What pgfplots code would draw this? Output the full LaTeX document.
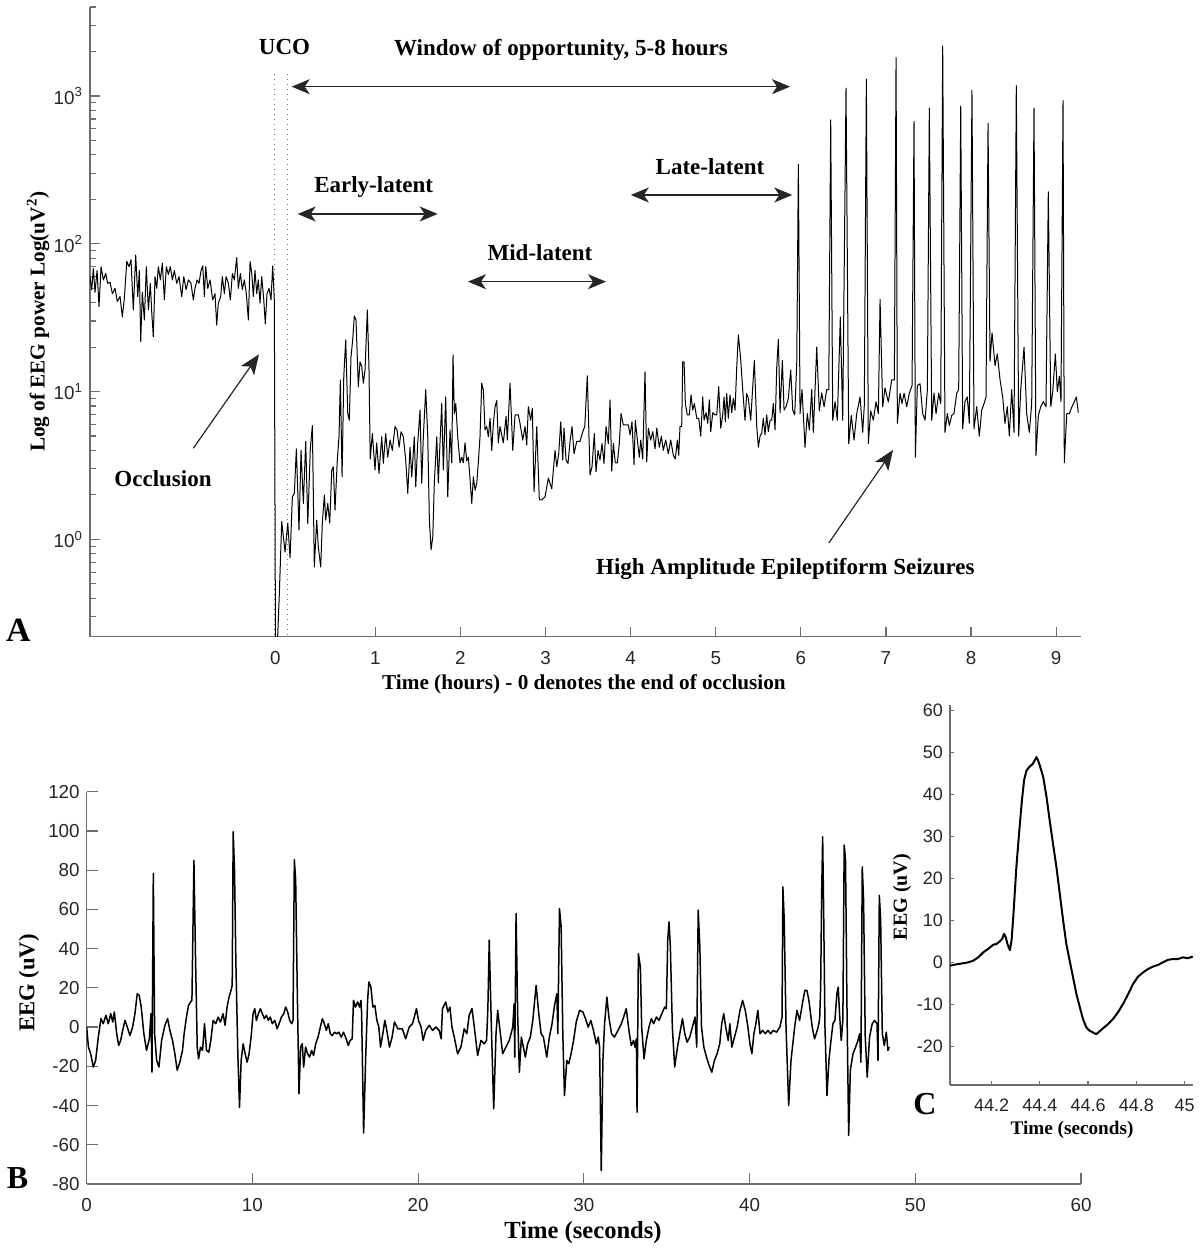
\documentclass[border=0pt]{standalone}
\usepackage{fontspec}
\setmainfont{Liberation Serif}
\newfontfamily\sans{Liberation Sans}
\usepackage{pgfplots}
\pgfplotsset{compat=1.18}
\usetikzlibrary{arrows.meta}
\definecolor{axgray}{RGB}{110,110,110}
\definecolor{tickcol}{RGB}{38,38,38}
\pgfplotsset{
  myaxis/.style={
    scale only axis, axis lines=left,
    axis line style={-,draw=axgray,line width=0.6pt},
    every tick/.style={draw=axgray,line width=0.6pt},
    tick align=inside,
    tick label style={font=\fontsize{8.7}{10}\selectfont\sans,text=tickcol},
  }
}
\tikzset{
  dar/.style={{Stealth[length=9pt,width=7.5pt,inset=2.5pt]}-{Stealth[length=9pt,width=7.5pt,inset=2.5pt]}, line width=0.65pt, draw=black!85},
  sar/.style={-{Stealth[length=10pt,width=8pt,inset=2.5pt]}, line width=0.6pt, draw=black!85},
  ann/.style={font=\fontsize{11.5}{13}\selectfont\bfseries, inner sep=0pt}
}
\begin{document}
\begin{tikzpicture}
\path[use as bounding box] (0,0) rectangle (600pt,626pt);
% ---------------- Panel A ----------------
\begin{axis}[myaxis, at={(45pt,307.65pt)}, anchor=south west,
  width=495.4pt, height=315pt, ymode=log,
  xmin=-2.353, xmax=9.29, ymin=0.2195, ymax=4025,
  xtick={-0.175,1,2,3,4,5,6,7,8,9}, xticklabels={0,1,2,3,4,5,6,7,8,9},
  ytick={1,10,100,1000},
  yticklabels={10\textsuperscript{0},10\textsuperscript{1},10\textsuperscript{2},10\textsuperscript{3}},
  minor ytick={0.3,0.4,0.5,0.6,0.7,0.8,0.9,2,3,4,5,6,7,8,9,20,30,40,50,60,70,80,90,200,300,400,500,600,700,800,900,2000,3000,4000},
  major tick length=5pt, minor tick length=3pt,
  tick label style={font=\fontsize{9.4}{11}\selectfont\sans,text=tickcol},
  xticklabel style={yshift=-4pt},
]
\draw[axgray, dotted, line width=0.5pt] (axis cs:-0.187,1409) -- (axis cs:-0.187,0.2195);
\draw[axgray, dotted, line width=0.5pt] (axis cs:-0.034,1409) -- (axis cs:-0.034,0.2195);
\addplot[black, line width=0.5pt, line join=round] coordinates {
(-2.353,60) (-2.333,48.8) (-2.314,68) (-2.294,47) (-2.270,66) (-2.247,37.6) (-2.223,70) (-2.196,57) (-2.168,63) (-2.145,54) (-2.118,55) (-2.090,46) (-2.059,50) (-2.032,40.7) (-2.000,44) (-1.973,32) (-1.949,43) (-1.921,76) (-1.894,70) (-1.871,78) (-1.844,35.7) (-1.816,84) (-1.792,44) (-1.773,66) (-1.757,21.8) (-1.738,47) (-1.714,30.5) (-1.691,70) (-1.667,35.7) (-1.644,54) (-1.628,34.8) (-1.609,23.5) (-1.589,60) (-1.569,50) (-1.550,70) (-1.526,57) (-1.503,74) (-1.479,41.7) (-1.456,70) (-1.432,62) (-1.409,70) (-1.385,57) (-1.362,66) (-1.334,54) (-1.307,60) (-1.275,44) (-1.251,60) (-1.224,49) (-1.197,57) (-1.166,54) (-1.139,41.7) (-1.119,50) (-1.095,57) (-1.072,54) (-1.048,66) (-1.028,71) (-1.009,44) (-0.993,70) (-0.969,50) (-0.942,57) (-0.911,41.7) (-0.884,46) (-0.864,28.2) (-0.845,39.7) (-0.817,44) (-0.798,60) (-0.774,46) (-0.754,60) (-0.727,54) (-0.704,41.7) (-0.680,63) (-0.657,57) (-0.629,80.7) (-0.610,50) (-0.586,63) (-0.563,49) (-0.539,57) (-0.516,46) (-0.492,30.5) (-0.472,76) (-0.452,63) (-0.434,44) (-0.414,66) (-0.394,46) (-0.375,57) (-0.355,39.7) (-0.335,60) (-0.311,41.7) (-0.293,28.7) (-0.273,46) (-0.249,50) (-0.226,41.7) (-0.206,71) (-0.187,41.7) (-0.173,0.15) (-0.159,0.15) (-0.128,0.43)
(-0.100,1.32) (-0.061,0.82) (-0.029,1.29) (-0.002,0.75) (0.025,1.94) (0.048,2.05) (0.072,4.1) (0.103,1.16) (0.127,4.0) (0.154,1.75) (0.182,4.6) (0.206,1.28) (0.236,4.1) (0.260,5.9) (0.283,0.65) (0.311,1.35) (0.330,0.89) (0.358,0.65) (0.377,1.29) (0.401,2.0) (0.417,1.35) (0.441,1.75) (0.464,1.29) (0.488,2.95) (0.506,3.1) (0.526,1.58) (0.553,3.44) (0.573,4.95) (0.589,12) (0.609,2.65) (0.629,12.6) (0.652,22.4) (0.676,7.1) (0.694,6.4) (0.714,17.2) (0.734,22.4) (0.753,32.5) (0.773,30.5) (0.800,10.8) (0.820,15.9) (0.840,14.8) (0.859,11.4) (0.879,14) (0.906,35.7) (0.925,14.8) (0.940,3.5) (0.965,5.2) (0.996,2.95) (1.016,4.5) (1.043,2.8) (1.075,4.95) (1.094,3.27) (1.122,5.2) (1.146,3.6) (1.173,4.7) (1.200,4.0) (1.231,5.8) (1.255,5.5) (1.279,4.2) (1.302,5.35) (1.329,4.95) (1.357,3.44) (1.381,2.05) (1.408,4.2) (1.428,2.65) (1.458,4.95) (1.475,2.27) (1.498,4.5) (1.525,7.5) (1.545,2.4) (1.564,4.95) (1.592,10.3) (1.616,4.95) (1.635,1.35) (1.655,0.85) (1.675,1.04) (1.693,2.4) (1.722,4.95) (1.740,2.4) (1.760,4.5) (1.780,8.3) (1.799,2.95) (1.827,9.2) (1.851,1.94) (1.878,5.5) (1.898,3.3) (1.913,17.7) (1.928,7.1) (1.945,8.3) (1.968,4.95) (1.995,3.3) (2.015,3.6) (2.034,3.3) (2.054,4.5) (2.074,3.4) (2.093,3.6) (2.113,2.55) (2.133,1.75) (2.152,2.65) (2.172,2.15) (2.192,2.4) (2.210,3.3) (2.230,4.95) (2.250,11.4) (2.269,10.3) (2.289,5.5) (2.309,5.8) (2.328,4.95) (2.348,6.6) (2.368,4.0) (2.387,6.1) (2.407,7.9) (2.427,8.7) (2.445,4.5)
(2.465,5.8) (2.504,4.5) (2.536,6.8) (2.551,4.7) (2.583,11.4) (2.615,4.0) (2.642,6.95) (2.680,6.95) (2.700,6.1) (2.732,4.7) (2.759,5.8) (2.779,4.35) (2.798,7.9) (2.826,6.4) (2.845,7.7) (2.865,2.1) (2.897,5.8) (2.927,1.85) (2.955,1.85) (2.994,1.94) (3.033,2.6) (3.073,2.2) (3.112,4.0) (3.132,3.1) (3.155,3.8) (3.179,6.25) (3.202,3.44) (3.217,5.65) (3.241,3.44) (3.264,3.27) (3.288,4.6) (3.311,5.8) (3.335,3.8) (3.367,4.6) (3.405,4.6) (3.437,5.35) (3.461,5.8) (3.491,12.8) (3.523,2.72) (3.546,3.1) (3.573,5.2) (3.593,2.87) (3.617,4.0) (3.640,3.44) (3.664,4.45) (3.687,3.27) (3.711,5.8) (3.738,4.45) (3.758,8.8) (3.778,2.9) (3.797,4.45) (3.820,3.3) (3.844,3.3) (3.867,4.45) (3.887,7.1) (3.914,5.95) (3.946,5.95) (3.973,5.95) (3.993,5.1) (4.016,6.25) (4.040,3.2) (4.055,6.4) (4.079,4.7) (4.102,3.6) (4.119,4.7) (4.142,3.5) (4.169,13.6) (4.189,3.35) (4.208,5.65) (4.236,4.7) (4.260,5.35) (4.287,4.1) (4.307,5.65) (4.337,4.2) (4.361,5.0) (4.384,4.0) (4.412,4.7) (4.443,3.8) (4.471,4.7) (4.502,3.7) (4.525,3.5) (4.549,4.7) (4.565,3.7) (4.580,5.8) (4.600,5.8) (4.612,15.9) (4.628,15.9) (4.643,8.3) (4.666,6.95) (4.690,6.95) (4.710,9.5) (4.730,7.5) (4.749,8.3) (4.777,6.6) (4.800,6.6) (4.824,5.0) (4.847,9.2) (4.863,6.4) (4.886,7.2) (4.906,6.1) (4.925,8.8) (4.941,5.35) (4.965,7.2) (4.992,6.95) (5.012,6.95) (5.035,10.8) (5.059,5.65) (5.082,6.95) (5.098,9.2) (5.113,6.25) (5.129,9.7) (5.148,6.6) (5.168,9.5) (5.188,7.2) (5.207,9.0) (5.227,7.5) (5.247,14.7) (5.266,24.2) (5.294,16.3) (5.318,10.1) (5.344,6.4) (5.364,9.7) (5.383,9.0) (5.411,6.4) (5.435,10.8) (5.454,16.3) (5.482,5.8) (5.501,4.2) (5.521,5.0) (5.541,5.25) (5.559,6.6) (5.579,5.1) (5.599,6.95) (5.618,5.35) (5.638,6.4) (5.658,6.4) (5.677,8.3) (5.697,5.5) (5.717,14.7) (5.736,22.6) (5.756,7.2) (5.783,16.3) (5.803,7.5) (5.826,7.9) (5.853,9.0) (5.881,14) (5.905,7.5) (5.928,6.95) (5.952,15.6) (5.971,345) (5.991,7.1)
(6.014,10.3) (6.049,4.2) (6.076,7.1) (6.100,5.5) (6.128,10.3) (6.147,5.3) (6.187,20) (6.217,7.4) (6.245,9.8) (6.273,7.9) (6.304,10.3) (6.328,10.3) (6.351,690) (6.375,6.4) (6.402,8.55) (6.429,6.4) (6.464,32) (6.492,6.4) (6.531,1130) (6.563,4.45) (6.593,6.9) (6.625,4.7) (6.657,7.1) (6.696,9.2) (6.727,5.3) (6.746,8.1) (6.770,1300) (6.793,4.45) (6.821,7.4) (6.852,6.4) (6.884,8.55) (6.911,7.1) (6.931,42) (6.962,7.9) (6.989,10.6) (7.028,8.5) (7.068,12) (7.099,12) (7.119,1820) (7.134,6.1) (7.166,9.75) (7.189,8.3) (7.213,9.75) (7.244,7.9) (7.275,9.75) (7.307,11) (7.330,675) (7.346,3.6) (7.369,11) (7.401,11.3) (7.432,7.1) (7.460,6.4) (7.487,10.3) (7.510,830) (7.538,6.4) (7.565,9.75) (7.589,7.1) (7.620,9.75) (7.644,8.3) (7.667,2180) (7.694,5.3) (7.721,7.1) (7.745,5.9) (7.773,6.9) (7.800,7.1) (7.832,9.75) (7.855,10.3) (7.879,855) (7.902,5.6) (7.929,8.55) (7.956,9.2) (7.980,6.1) (8.011,1090) (8.035,5.6) (8.067,7.9) (8.097,5.0) (8.126,7.5) (8.153,8.3) (8.176,9.2) (8.200,655) (8.223,16) (8.247,25) (8.282,15) (8.309,18) (8.341,12) (8.372,9.2) (8.399,6.1) (8.426,7.9) (8.450,5.0) (8.478,10.3) (8.505,5.3) (8.532,1175) (8.560,5.0) (8.584,10.3) (8.623,20) (8.654,7.1) (8.685,5.3) (8.713,8.3) (8.740,830) (8.763,3.7) (8.791,6.9) (8.819,7.9) (8.850,8.55) (8.881,7.9) (8.908,225) (8.937,7.9) (8.960,10) (8.991,18) (9.014,10) (9.038,12.7) (9.057,8.55) (9.081,930) (9.096,3.3) (9.125,7.1) (9.155,7.1) (9.186,7.9) (9.214,8.55) (9.238,9.2) (9.261,7.2)
};
\end{axis}
% ---------------- Panel B ----------------
\begin{axis}[myaxis, at={(43.35pt,34pt)}, anchor=south west,
  width=497.15pt, height=196.15pt,
  xmin=0, xmax=60, ymin=-80, ymax=120,
  xtick={0,10,20,30,40,50,60}, xticklabels={0,10,20,30,40,50,60},
  ytick={-80,-60,-40,-20,0,20,40,60,80,100,120},
  yticklabels={-80,-60,-40,-20,0,20,40,60,80,100,120},
  major tick length=5.5pt,
  tick label style={font=\fontsize{9.4}{11}\selectfont\sans,text=tickcol},
  xticklabel style={yshift=-3.5pt},
]
\addplot[black, line width=0.75pt, line join=round] coordinates {
(0,0) (0.1,-10) (0.24,-13.6) (0.4,-20.4) (0.54,-17) (0.7,-5.1) (0.86,4.3) (1.0,1.7) (1.16,6) (1.3,1.7) (1.45,6.8) (1.57,2.6) (1.67,7.7) (1.81,-3.4) (1.93,-9.4) (2.05,-6.8) (2.17,-1.7) (2.31,3.4) (2.45,0) (2.61,-4.3) (2.77,0) (2.91,6.8) (3.05,17) (3.17,16.2) (3.29,10.2) (3.45,-3.4) (3.61,-11.9) (3.78,-6) (3.88,6.8) (3.94,-23) (4.02,78.3) (4.1,-3.4) (4.22,-17) (4.36,-20.4) (4.52,-6.8) (4.72,0.9) (4.88,4.3) (5.02,-1.7) (5.18,-6.8) (5.32,-13.6) (5.46,-22) (5.62,-17.9) (5.78,-11.9) (5.88,-3.4) (6.02,5.1) (6.14,11) (6.27,12.8) (6.35,13.6) (6.47,85) (6.57,34) (6.67,-10.2) (6.75,-16.2) (6.87,-10.2) (6.99,-11.9) (7.11,1.7) (7.23,-11.9) (7.37,-12.8) (7.49,-6.8) (7.63,3.4) (7.79,1.7) (7.93,5.1) (8.07,2.6) (8.23,6.8) (8.35,0.9) (8.47,10.2) (8.59,15.3) (8.71,18.7) (8.78,21.3) (8.84,99.6) (8.92,80) (9.0,34) (9.12,-13.6) (9.22,-40.9) (9.32,-17) (9.44,-8.5) (9.56,-13.6) (9.68,-17.9) (9.8,-13.6) (9.92,-5.1) (10.04,6.8) (10.14,9.4) (10.24,3.4) (10.36,6.8) (10.48,9.4) (10.6,6.8) (10.72,4.3) (10.84,6) (10.96,3.4) (11.08,5.1) (11.2,1.7) (11.35,3.4) (11.49,-0.9) (11.61,1.7) (11.75,5.1) (11.89,6.8) (12.01,10.2) (12.13,7.7) (12.25,3.4) (12.37,1.7) (12.45,3.4) (12.53,85.4) (12.61,75) (12.71,17) (12.81,-34) (12.91,-10.2) (13.01,-8.5) (13.09,-20.4) (13.21,-10.2) (13.33,-13.6) (13.45,-15.3) (13.57,-11.9) (13.69,-14.5) (13.82,-8.5) (13.96,-5.1) (14.1,0) (14.22,4.3) (14.34,1.7) (14.46,-1.7) (14.58,1.7) (14.7,-3.4) (14.82,-4.3) (14.96,-2.6) (15.1,-3.4) (15.22,-2.6) (15.36,-5.1) (15.5,-2.6) (15.66,-6) (15.78,-9.4) (15.9,-6.8) (16.02,-6) (16.1,13.6) (16.22,10.2) (16.35,12.8) (16.47,10.2) (16.55,13.6) (16.59,6.8) (16.71,-54) (16.83,-17) (16.95,13.6) (17.03,23) (17.15,20.4) (17.27,10.2) (17.39,11) (17.51,3.4) (17.63,0) (17.73,-10.2) (17.87,-3.4) (17.99,3.4) (18.11,-1.7) (18.27,-10.2) (18.43,-5.1) (18.57,2.6) (18.78,-0.9)
(19.05,-0.9) (19.25,-6) (19.46,0) (19.66,1.7) (19.82,6.8) (19.9,9.4) (20.02,3.4) (20.18,0) (20.3,-6.8) (20.46,-1.7) (20.67,0.9) (20.87,-1.7) (21.07,0) (21.27,-1.7) (21.39,-6) (21.47,9.4) (21.67,12.8) (21.79,7.7) (21.92,10.2) (22.04,0) (22.18,-5.1) (22.38,-13.6) (22.58,-10.2) (22.78,-0.9) (22.94,-3.4) (23.08,6) (23.25,9.4) (23.39,0) (23.59,-14.5) (23.79,-6.8) (23.99,-8.5) (24.13,-6.8) (24.21,10.2) (24.29,44.3) (24.42,0) (24.56,-41.7) (24.7,-3.4) (24.8,8.5) (24.94,-1.7) (25.1,-13.6) (25.3,-10.2) (25.5,-6.8) (25.71,0) (25.79,11.9) (25.83,-15.3) (25.91,57.9) (26.01,5.1) (26.11,-23) (26.23,-5.1) (26.35,-10.2) (26.47,-15.3) (26.61,-8.5) (26.77,-5.1) (26.92,3.4) (27.12,21.3) (27.28,6.8) (27.42,-3.4) (27.56,-5.1) (27.76,-15.3) (27.92,-5.1) (28.08,1.7) (28.23,11) (28.37,17) (28.43,-3.4) (28.53,60.4) (28.63,51) (28.73,-3.4) (28.83,-34.9) (28.97,-17) (29.09,-18.7) (29.23,-13.6) (29.38,-6.8) (29.54,2.6) (29.74,8.5) (29.94,7.7) (30.1,4.3) (30.26,0) (30.42,3.4) (30.58,-1.7) (30.75,-8.5) (30.87,-5.1) (30.95,-10.2) (31.05,-73.2) (31.15,-17) (31.25,1.7) (31.39,15.3) (31.51,5.1) (31.67,-3.4) (31.85,-5.1) (32.06,-1.7) (32.26,1.7) (32.4,5.1) (32.56,9.4) (32.72,-1.7) (32.86,-9.4) (33.0,-6.8) (33.08,-10.2) (33.17,-6) (33.21,-43.4) (33.29,37.4) (33.41,30.6) (33.49,0) (33.63,-16.2) (33.77,-6.8) (33.93,0) (34.07,4.3) (34.21,1.7) (34.38,5.1) (34.54,3.4) (34.7,6.8) (34.88,10.2) (34.98,9.4) (35.06,44.3) (35.14,53.6) (35.22,40.9) (35.34,0) (35.48,-20.4) (35.65,-10.2) (35.79,-3.4) (35.95,4.3) (36.09,-3.4) (36.23,-7.7) (36.39,-5.1) (36.55,0) (36.71,5.1) (36.81,-10.2) (36.9,59.6) (37.0,40.9) (37.1,0) (37.24,-10.2) (37.4,-15.3) (37.56,-19.6) (37.72,-23) (37.88,-17) (38.04,-13.6) (38.2,-8.5) (38.32,1.7) (38.44,6.8) (38.56,0) (38.71,-6.8) (38.81,1.7) (38.93,-10.2) (39.09,-5.1) (39.25,0) (39.42,8.5) (39.58,13.6) (39.74,8.5) (39.9,0) (40.02,-8.5) (40.14,-13.6) (40.26,-3.4) (40.38,1.7) (40.5,8.5) (40.63,-3.4) (40.79,-1.7) (40.95,-3.4) (41.11,-1.7) (41.27,-3.4) (41.43,-1.7) (41.63,-2.6) (41.83,0) (41.96,5.1) (42.01,71.5) (42.09,55) (42.2,0) (42.36,-40) (42.5,-17) (42.72,0) (42.86,8.5) (43.02,3.4) (43.22,13.6) (43.34,18.7) (43.46,18.7) (43.58,13.6) (43.78,0) (43.92,-6) (44.02,-3.4) (44.14,0) (44.23,4.3) (44.29,20.4) (44.35,68) (44.41,97) (44.47,59.6) (44.55,0) (44.67,-34.9) (44.79,-17) (44.89,-8.5) (45.03,1.7) (45.15,3.4) (45.27,17) (45.35,20.4) (45.43,6.8) (45.53,-6.8) (45.63,3.4) (45.71,92.8) (45.79,85) (45.88,8.5) (45.98,-55.3) (46.08,-22) (46.24,-13.6) (46.4,-10.2) (46.54,-6.8) (46.64,-3.4) (46.72,-17.9) (46.8,81.7) (46.88,64.7) (46.98,-5.1) (47.1,-25.5) (47.24,-5.1) (47.4,1.7) (47.55,3.4) (47.69,1.7) (47.75,-17) (47.83,67.2) (47.91,54.5) (48.01,-3.4) (48.13,-9.4) (48.25,-2.6) (48.35,-11.9) (48.43,-10.2)
};
\end{axis}
% ---------------- Panel C ----------------
\begin{axis}[myaxis, at={(475pt,83.5pt)}, anchor=south west,
  width=121.5pt, height=190pt,
  xmin=44.028, xmax=45.035, ymin=-29.2, ymax=61.3,
  xtick={44.2,44.4,44.6,44.8,45}, xticklabels={44.2,44.4,44.6,44.8,45},
  ytick={-20,-10,0,10,20,30,40,50,60},
  yticklabels={-20,-10,0,10,20,30,40,50,60},
  major tick length=2pt,
  tick label style={font=\fontsize{9}{10.5}\selectfont\sans,text=tickcol},
  xticklabel style={yshift=-3.5pt},
]
\addplot[black, line width=1pt, line join=round] coordinates {
(44.028,-0.8) (44.041,-0.6) (44.062,-0.4) (44.083,-0.2) (44.103,0) (44.124,0.4) (44.145,1.2) (44.166,2.4) (44.186,3.2) (44.207,4.2) (44.221,4.4) (44.234,5) (44.244,5.6) (44.252,6.8) (44.259,6) (44.266,4.4) (44.276,2.9) (44.283,5.2) (44.29,10.7) (44.297,17.1) (44.303,22.7) (44.314,30.6) (44.326,38.6) (44.335,43.4) (44.345,45.7) (44.359,46.7) (44.37,47.2) (44.379,48.1) (44.386,48.9) (44.393,48.1) (44.4,46.9) (44.414,44.2) (44.428,39.4) (44.441,33.8) (44.455,28.2) (44.469,22.7) (44.483,16.3) (44.497,9.9) (44.51,4.4) (44.524,0.4) (44.538,-3.6) (44.552,-7.6) (44.566,-10.7) (44.579,-13.5) (44.593,-15.5) (44.607,-16.3) (44.621,-16.7) (44.634,-17.1) (44.646,-16.5) (44.662,-15.7) (44.683,-14.7) (44.703,-13.5) (44.724,-11.9) (44.745,-9.9) (44.766,-7.6) (44.786,-5.2) (44.807,-3.4) (44.828,-2.4) (44.848,-1.6) (44.869,-1.0) (44.89,-0.6) (44.91,0) (44.931,0.6) (44.952,0.8) (44.972,0.8) (44.993,1.2) (45.014,1.0) (45.034,1.4)
};
\end{axis}
% ---------------- Annotations (pixel coordinates) ----------------
\begin{scope}[x=0.5pt,y=-0.5pt,shift={(0pt,626pt)}]
\node[ann] at (284.5,47.5) {UCO};
\node[ann] at (561,50) {Window of opportunity, 5-8 hours};
\draw[dar] (291.7,86.7) -- (790,86.7);
\node[ann] at (373.7,186.7) {Early-latent};
\draw[dar] (297.7,214) -- (437.7,214);
\node[ann] at (540,252.7) {Mid-latent};
\draw[dar] (468,281.7) -- (606,281.7);
\node[ann] at (710,167) {Late-latent};
\draw[dar] (630.8,195) -- (792.3,195);
\node[ann] at (163,479) {Occlusion};
\draw[sar] (193.3,448.3) -- (259,354.3);
\node[ann, anchor=east] at (975,569) {High Amplitude Epileptiform Seizures};
\draw[sar] (828.8,543) -- (893,450);
% axis labels
\node[rotate=90, inner sep=0pt, font=\fontsize{10.6}{12}\selectfont\bfseries] at (38,321.7) {Log of EEG power Log(uV\textsuperscript{2})};
\node[inner sep=0pt, font=\fontsize{10.6}{12}\selectfont\bfseries] at (584,684) {Time (hours) - 0 denotes the end of occlusion};
\node[rotate=90, inner sep=0pt, font=\fontsize{11.3}{13}\selectfont\bfseries] at (29,983) {EEG (uV)};
\node[inner sep=0pt, font=\fontsize{12.3}{14}\selectfont\bfseries] at (583,1233) {Time (seconds)};
\node[rotate=90, inner sep=0pt, font=\fontsize{10}{12}\selectfont\bfseries] at (902,897) {EEG (uV)};
\node[inner sep=0pt, font=\fontsize{9.6}{11}\selectfont\bfseries] at (1072,1130) {Time (seconds)};
% panel letters
\node[inner sep=0pt, font=\fontsize{17}{20}\selectfont\bfseries] at (18.5,630) {A};
\node[inner sep=0pt, font=\fontsize{16}{19}\selectfont\bfseries] at (17.5,1178) {B};
\node[inner sep=0pt, font=\fontsize{16}{19}\selectfont\bfseries] at (925,1104) {C};
\end{scope}
\end{tikzpicture}
\end{document}
